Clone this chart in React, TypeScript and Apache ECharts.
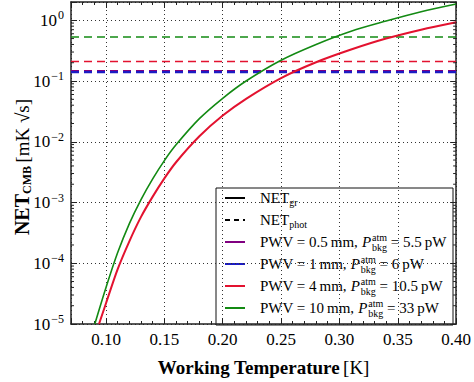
import React, { useEffect, useRef } from "react";
import * as echarts from "echarts";

const SERIF = "'Liberation Serif', 'Times New Roman', serif";

// Axis ranges
const X_MIN = 0.07;
const X_MAX = 0.4;
const Y_MIN = 1e-5;
const Y_MAX = 2;

// NET_gr curves (solid)
const GREEN_T = [0.0904, 0.1, 0.11, 0.12, 0.13, 0.14, 0.15, 0.16, 0.18, 0.2, 0.22, 0.25, 0.28, 0.31, 0.34, 0.37, 0.4];
const GREEN_NET = [1e-5, 4.0e-5, 1.5e-4, 4.5e-4, 1.12e-3, 2.45e-3, 4.9e-3, 8.9e-3, 0.024, 0.052, 0.1, 0.22, 0.4, 0.66, 0.97, 1.38, 1.85];
const RED_T = [0.094, 0.1, 0.11, 0.12, 0.13, 0.14, 0.15, 0.16, 0.18, 0.2, 0.22, 0.25, 0.28, 0.31, 0.34, 0.37, 0.4];
const RED_NET = [1e-5, 2.2e-5, 8.0e-5, 2.3e-4, 5.8e-4, 1.25e-3, 2.5e-3, 4.6e-3, 0.0123, 0.027, 0.051, 0.112, 0.204, 0.33, 0.5, 0.7, 0.93];

// NET_phot levels (dashed)
const PWV_MM = ["0.5", "1", "4", "10"];
const PBKG_PW = ["5.5", "6", "10.5", "33"];
const PHOT_NET = [0.148, 0.14, 0.21, 0.53];
const COLORS = ["#800080", "#1c1cc4", "#e3122f", "#138a13"];

// tick decoration values
const DECADES = [-5, -4, -3, -2, -1, 0];
const MINOR_MULT = [2, 3, 4, 5, 6, 7, 8, 9];

const AXIS_COLOR = "#222";

function supExp(e: number) {
  return e < 0 ? "\u2212" + String(-e) : String(e);
}

type Seg = { t: string; size: number; italic?: boolean; dy?: number } | { sup: string; sub: string; size: number };

function App() {
  const ref = useRef<HTMLDivElement>(null);
  useEffect(() => {
    if (!ref.current) return;
    const chart = echarts.init(ref.current, null, { renderer: "svg" });

    const ctx = document.createElement("canvas").getContext("2d")!;
    const measure = (t: string, size: number, italic?: boolean) => {
      ctx.font = `${italic ? "italic " : ""}${size}px ${SERIF}`;
      return ctx.measureText(t).width;
    };

    const minorVals: number[][] = [];
    DECADES.forEach((d) =>
      MINOR_MULT.forEach((m) => {
        const v = m * Math.pow(10, d);
        if (v < Y_MAX) minorVals.push([X_MIN, v]);
      })
    );

    // Legend layout
    const LX = 216, LY = 188, LW = 237, LH = 137;
    const lineX1 = 225, lineX2 = 245, textX = 260;
    const rowY = [198, 220, 242, 264, 286, 308];
    const FS = 15;
    const entries: { color: string; dashed: boolean; segs: Seg[] }[] = [
      { color: "#000", dashed: false, segs: [{ t: "NET", size: FS }, { t: "gr", size: 10, dy: 4 }] },
      { color: "#000", dashed: true, segs: [{ t: "NET", size: FS }, { t: "phot", size: 10, dy: 4 }] },
    ];
    PWV_MM.forEach((p, i) => {
      entries.push({
        color: COLORS[i],
        dashed: false,
        segs: [
          { t: `PWV = ${p}\u2009mm, `, size: FS },
          { t: "P", size: FS, italic: true },
          { sup: "atm", sub: "bkg", size: 10 },
          { t: ` = ${PBKG_PW[i]}\u2009pW`, size: FS },
        ],
      });
    });
    const legendChildren: any[] = [
      {
        type: "rect",
        shape: { x: LX, y: LY, width: LW, height: LH },
        style: { fill: "#fff", stroke: "#111", lineWidth: 1 },
      },
    ];
    entries.forEach((e, r) => {
      const y = rowY[r];
      legendChildren.push({
        type: "line",
        shape: { x1: lineX1, y1: y, x2: lineX2, y2: y },
        style: { stroke: e.color, lineWidth: 2, lineDash: e.dashed ? [5, 4] : null },
      });
      let x = textX;
      e.segs.forEach((s: any) => {
        if (s.sup !== undefined) {
          const w = Math.max(measure(s.sup, s.size), measure(s.sub, s.size));
          legendChildren.push({
            type: "text",
            x: x + 1,
            y: y - 5,
            style: { text: s.sup, fontFamily: SERIF, fontSize: s.size, fill: "#000", verticalAlign: "middle" },
          });
          legendChildren.push({
            type: "text",
            x: x + 1,
            y: y + 5,
            style: { text: s.sub, fontFamily: SERIF, fontSize: s.size, fill: "#000", verticalAlign: "middle" },
          });
          x += w + 1;
        } else {
          legendChildren.push({
            type: "text",
            x,
            y: y + (s.dy || 0),
            style: {
              text: s.t,
              fontFamily: SERIF,
              fontSize: s.size,
              fontStyle: s.italic ? "italic" : "normal",
              fill: "#000",
              verticalAlign: "middle",
            },
          });
          x += measure(s.t, s.size, s.italic);
        }
      });
    });

    const lineSeries: any[] = [];
    PHOT_NET.forEach((v, i) => {
      lineSeries.push({
        type: "line",
        name: `phot${i}`,
        data: [
          [X_MIN, v],
          [X_MAX, v],
        ],
        showSymbol: false,
        symbol: "none",
        lineStyle: { color: COLORS[i], width: i === 1 ? 2.2 : 1.6, type: [8, 5] },
        z: 3,
      });
    });
    lineSeries.push({
      type: "line",
      name: "gr_red",
      data: RED_T.map((t, i) => [t, RED_NET[i]]),
      smooth: 0.3,
      symbol: "none",
      lineStyle: { color: COLORS[2], width: 2 },
      z: 4,
    });
    lineSeries.push({
      type: "line",
      name: "gr_green",
      data: GREEN_T.map((t, i) => [t, GREEN_NET[i]]),
      smooth: 0.3,
      symbol: "none",
      lineStyle: { color: COLORS[3], width: 1.6 },
      z: 4,
    });
    lineSeries.push({
      type: "custom",
      name: "minorTicks",
      data: minorVals,
      encode: { x: 0, y: 1 },
      silent: true,
      clip: false,
      z: 5,
      renderItem: (params: any, api: any) => {
        const v = api.value(1);
        const l = api.coord([X_MIN, v]);
        const r = api.coord([X_MAX, v]);
        return {
          type: "group",
          children: [
            { type: "line", shape: { x1: l[0], y1: l[1], x2: l[0] + 3, y2: l[1] }, style: { stroke: AXIS_COLOR, lineWidth: 1 } },
            { type: "line", shape: { x1: r[0] - 3, y1: r[1], x2: r[0], y2: r[1] }, style: { stroke: AXIS_COLOR, lineWidth: 1 } },
          ],
        };
      },
    });

    const xBase = {
      type: "value",
      min: X_MIN,
      max: X_MAX,
      splitNumber: 7,
      axisLine: { show: true, onZero: false, lineStyle: { color: AXIS_COLOR, width: 1.5 } },
      axisTick: { show: true, inside: true, length: 6, lineStyle: { color: AXIS_COLOR } },
      minorTick: { show: true, splitNumber: 5, length: 3, lineStyle: { color: AXIS_COLOR } },
    };
    const yBase = {
      type: "log",
      logBase: 10,
      min: Y_MIN,
      max: Y_MAX,
      axisLine: { show: true, onZero: false, lineStyle: { color: AXIS_COLOR, width: 1.5 } },
      axisTick: { show: true, inside: true, length: 6, lineStyle: { color: AXIS_COLOR } },
    };

    chart.setOption({
      animation: false,
      backgroundColor: "#fff",
      grid: { left: 71, top: 2, width: 389, height: 330, containLabel: false },
      xAxis: [
        {
          ...xBase,
          position: "bottom",
          axisLabel: {
            show: true,
            margin: 7,
            color: "#000",
            fontFamily: SERIF,
            fontSize: 17,
            showMinLabel: true,
            showMaxLabel: true,
            formatter: (v: number) => {
              const k = v / 0.05;
              return Math.abs(k - Math.round(k)) < 1e-6 ? v.toFixed(2) : "";
            },
          },
          splitLine: { show: true, lineStyle: { color: "#333", type: [1, 3], width: 1 } },
          name: "{b|Working Temperature} {n|[K]}",
          nameLocation: "middle",
          nameGap: 34,
          nameTextStyle: {
            rich: {
              b: { fontFamily: SERIF, fontWeight: "bold", fontSize: 19, color: "#000" },
              n: { fontFamily: SERIF, fontSize: 19, color: "#000" },
            },
          },
        },
        {
          ...xBase,
          position: "top",
          axisLabel: { show: false },
          splitLine: { show: false },
        },
      ],
      yAxis: [
        {
          ...yBase,
          position: "left",
          axisLabel: {
            show: true,
            margin: 7,
            color: "#000",
            formatter: (v: number) => {
              const e = Math.round(Math.log10(v));
              if (Math.abs(v / Math.pow(10, e) - 1) > 1e-6) return "";
              return `{b|10}{s|${supExp(e)}}`;
            },
            rich: {
              b: { fontFamily: SERIF, fontSize: 17, color: "#000" },
              s: { fontFamily: SERIF, fontSize: 12, color: "#000", padding: [0, 0, 10, 1] },
            },
          },
          splitLine: { show: true, lineStyle: { color: "#333", type: [1, 3], width: 1 } },
        },
        {
          ...yBase,
          position: "right",
          axisLabel: { show: false },
          splitLine: { show: false },
        },
      ],
      series: lineSeries,
      graphic: [
        {
          type: "text",
          x: 22,
          y: 167,
          rotation: Math.PI / 2,
          style: {
            text: "{b|NET}{s|CMB} {n|[mK \u221As]}",
            align: "center",
            verticalAlign: "middle",
            rich: {
              b: { fontFamily: SERIF, fontWeight: "bold", fontSize: 20, fill: "#000" },
              s: { fontFamily: SERIF, fontWeight: "bold", fontSize: 12, fill: "#000", padding: [9, 0, 0, 0] },
              n: { fontFamily: SERIF, fontSize: 19, fill: "#000" },
            },
          },
        },
        { type: "group", z: 100, children: legendChildren },
      ],
    });
    return () => chart.dispose();
  }, []);
  return <div ref={ref} style={{ position: "absolute", left: 0, top: 0, width: 474, height: 382 }} />;
}

export default App;
